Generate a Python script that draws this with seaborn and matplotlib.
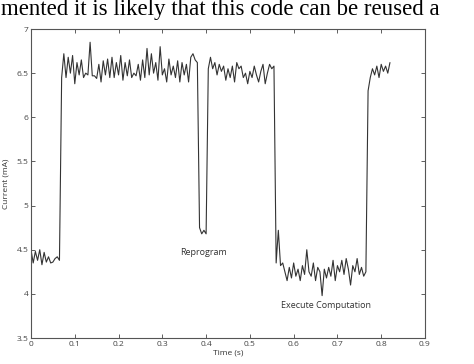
import numpy as np
import pandas as pd
import matplotlib
matplotlib.use("Agg")
import matplotlib.pyplot as plt
import seaborn as sns
from matplotlib.ticker import FuncFormatter

# sample times (s), 5 ms steps
time_s = np.round(np.arange(0, 0.8201, 0.005), 3)

# current readings (mA)
idle_low = [4.50, 4.35, 4.48, 4.38, 4.50, 4.33, 4.47, 4.36, 4.42, 4.35, 4.36, 4.40, 4.42, 4.38]
run_high_1 = [6.45, 6.72, 6.45, 6.68, 6.50, 6.70, 6.38, 6.62, 6.48, 6.65, 6.45, 6.50, 6.48, 6.85,
              6.47, 6.47, 6.44, 6.60, 6.40, 6.64, 6.48, 6.66, 6.45, 6.68, 6.45, 6.62, 6.48, 6.70,
              6.42, 6.62, 6.47, 6.65, 6.45, 6.50, 6.47, 6.60, 6.42, 6.65, 6.45, 6.78, 6.48, 6.72,
              6.50, 6.62, 6.42, 6.80, 6.48, 6.55, 6.40, 6.66, 6.48, 6.58, 6.45, 6.64, 6.40, 6.62,
              6.48, 6.60, 6.40, 6.68, 6.72, 6.65, 6.62]
reprogram = [4.75, 4.68, 4.72, 4.68]
run_high_2 = [6.55, 6.68, 6.55, 6.62, 6.48, 6.60, 6.52, 6.58, 6.42, 6.55, 6.45, 6.58, 6.40, 6.62,
              6.55, 6.58, 6.45, 6.50, 6.38, 6.52, 6.45, 6.58, 6.48, 6.40, 6.52, 6.60, 6.38, 6.50,
              6.60, 6.55, 6.58]
compute_low = [4.35, 4.72, 4.32, 4.35, 4.25, 4.15, 4.30, 4.18, 4.35, 4.20, 4.28, 4.15, 4.32, 4.22,
               4.50, 4.25, 4.20, 4.35, 4.15, 4.30, 4.25, 3.98, 4.28, 4.18, 4.30, 4.20, 4.38, 4.15,
               4.32, 4.25, 4.38, 4.22, 4.40, 4.28, 4.10, 4.32, 4.25, 4.40, 4.22, 4.30, 4.20, 4.25]
run_high_3 = [6.30, 6.45, 6.55, 6.48, 6.58, 6.45, 6.60, 6.52, 6.58, 6.50, 6.62]

current_ma = idle_low + run_high_1 + reprogram + run_high_2 + compute_low + run_high_3
df = pd.DataFrame({"Time": time_s[:len(current_ma)], "Current": current_ma})

sns.set_style("ticks")
plt.rcParams['font.family'] = ['Open Sans', 'DejaVu Sans']

fig = plt.figure(figsize=(4.74, 3.64), dpi=100)
ax = fig.add_axes([0.0654, 0.0714, 0.8312, 0.8489])

sns.lineplot(data=df, x="Time", y="Current", ax=ax, color="#333333", linewidth=0.8)

ax.set_xlim(0, 0.9)
ax.set_ylim(3.5, 7)
ax.set_xticks(np.arange(0, 0.91, 0.1))
ax.set_yticks(np.arange(3.5, 7.01, 0.5))
ax.xaxis.set_major_formatter(FuncFormatter(lambda v, p: f"{v:g}"))
ax.yaxis.set_major_formatter(FuncFormatter(lambda v, p: f"{v:g}"))
ax.tick_params(direction='in', top=True, right=True, length=3, width=0.6,
               labelsize=6, colors='#444444', pad=2)
for s in ax.spines.values():
    s.set_visible(True)
    s.set_linewidth(0.8)
    s.set_color('#555555')

ax.set_xlabel("Time (s)", fontsize=6, color='#333333', labelpad=1)
ax.set_ylabel("Current (mA)", fontsize=6, color='#333333', labelpad=5)

ax.text(0.393, 4.47, "Reprogram", fontsize=6.5, ha='center', va='center', color='#333333')
ax.text(0.673, 3.87, "Execute Computation", fontsize=6.5, ha='center', va='center', color='#333333')

# caption line from the page above the figure
fig.text(0.003, 1 - 15 / 364, "mented it is likely that this code can be reused a",
         fontsize=16.5, family='Liberation Serif', va='baseline', ha='left', color='black')

fig.savefig("out.png", dpi=100)
